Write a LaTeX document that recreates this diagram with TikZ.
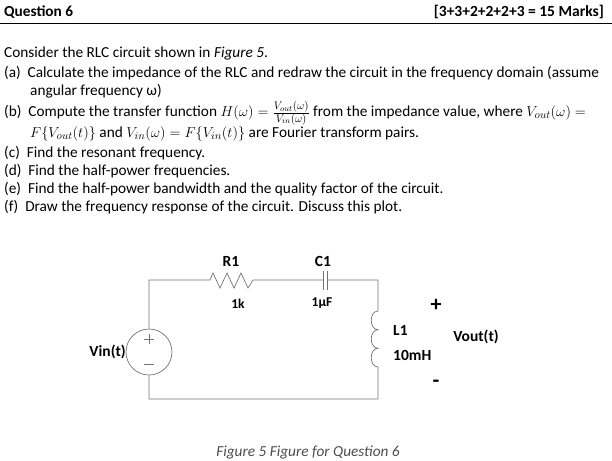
\documentclass[tikz,border=0pt]{standalone}
\usepackage{fontspec}
\setmainfont{Carlito}
\usepackage{amsmath}
\begin{document}
\begin{tikzpicture}[x=1pt,y=-1pt,
  txt/.style={anchor=west,inner sep=0pt,font=\fontsize{15.3}{17}\selectfont},
  lbl/.style={inner sep=0pt,font=\fontsize{15.5}{17}\selectfont\bfseries},
  wire/.style={draw=black!55,line width=0.7pt}]
\useasboundingbox (0,0) rectangle (612,460);
\node[txt,font=\fontsize{15.3}{17}\selectfont\bfseries] (q) at (4,12) {Question 6};
\node[lbl,anchor=east] (m) at (604,12) {[3+3+2+2+2+3 = 15 Marks]};
\draw[line width=0.6pt] (0,23) -- (612,23);
\node[txt] (t0) at (4,53) {Consider the RLC circuit shown in \textit{Figure 5}.};
\node[txt] (ta) at (4,73) {(a)\ \ Calculate the impedance of the RLC and redraw the circuit in the frequency domain (assume};
\node[txt] (ta2) at (30,91) {angular frequency ω)};
\node[txt] (tb) at (4,113) {(b)\ \ Compute the transfer function $H(\omega)=\frac{V_{out}(\omega)}{V_{in}(\omega)}$ from the impedance value, where $V_{out}(\omega)=$};
\node[txt] (tb2) at (30,134) {$F\{V_{out}(t)\}$ and $V_{in}(\omega)=F\{V_{in}(t)\}$ are Fourier transform pairs.};
\node[txt] (tc) at (4,153) {(c)\ \ Find the resonant frequency.};
\node[txt] (td) at (4,171) {(d)\ \ Find the half-power frequencies.};
\node[txt] (te) at (4,189) {(e)\ \ Find the half-power bandwidth and the quality factor of the circuit.};
\node[txt] (tf) at (4,207) {(f)\ \ Draw the frequency response of the circuit. Discuss this plot.};
% circuit
\coordinate (tl) at (149,280);
\coordinate (tr) at (378,280);
\coordinate (bl) at (149,399);
\coordinate (br) at (378,399);
\node[circle,draw=black!55,line width=0.7pt,minimum size=46pt,inner sep=0pt] (src) at (149,352) {};
\draw[wire,line width=0.5pt] (144,339) -- (154,339) (149,334) -- (149,344);
\draw[wire,line width=0.5pt] (144,364) -- (154,364);
\draw[wire] (src.north) -- (tl) -- (210,280)
  -- (213,273) -- (220,288) -- (227,273) -- (234,288) -- (241,273) -- (248,288) -- (253,280)
  -- (323,280);
\draw[wire] (323,271) -- (323,290) (327,271) -- (327,290);
\draw[wire] (327,280) -- (tr) -- (378,311)
  .. controls (369,311) and (369,329.7) .. (378,329.7)
  .. controls (369,329.7) and (369,348.3) .. (378,348.3)
  .. controls (369,348.3) and (369,367) .. (378,367)
  -- (br) -- (bl) -- (src.south);
\node[lbl] (r1) at (231,261) {R1};
\node[lbl,font=\fontsize{13.5}{15}\selectfont\bfseries] (rv) at (238,304) {1k};
\node[lbl] (c1) at (323,261) {C1};
\node[lbl,font=\fontsize{13.5}{15}\selectfont\bfseries] (cv) at (322,303) {1µF};
\node[lbl,anchor=west] (l1) at (393,330) {L1};
\node[lbl,anchor=west] (lv) at (393,355) {10mH};
\node[lbl,anchor=east] (vin) at (126,352) {Vin(t)};
\node[lbl,font=\fontsize{22}{22}\selectfont\bfseries] (pl) at (436,305) {+};
\node[lbl] (vo) at (476,337) {Vout(t)};
\node[lbl,font=\fontsize{22}{22}\selectfont\bfseries] (mi) at (436,384) {-};
\node[txt,anchor=center,text=black!70] (cap) at (308,453) {\textit{Figure 5 Figure for Question 6}};
\end{tikzpicture}
\end{document}
